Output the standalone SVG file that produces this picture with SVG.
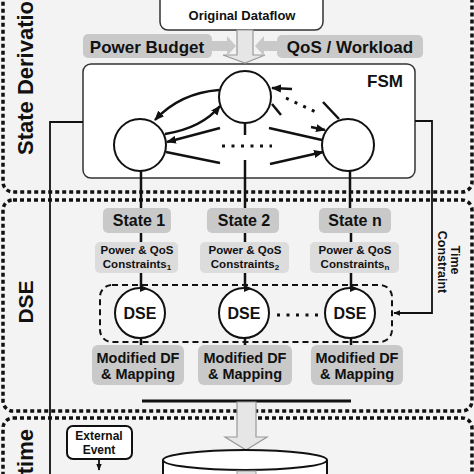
<svg xmlns="http://www.w3.org/2000/svg" width="474" height="474" viewBox="0 0 474 474">
<defs>
<style>
.region{fill:none;stroke:#111;stroke-width:3.5;stroke-dasharray:4 3}
.lbl{font-family:"Liberation Sans",Arial,sans-serif;font-weight:bold;fill:#111}
.gbox{fill:#c9c9c9}
.lbox{fill:#dcdcdc}
.node{fill:#fff;stroke:#111;stroke-width:2}
.ln{fill:none;stroke:#111;stroke-width:2.5}
.thin{fill:none;stroke:#111;stroke-width:1.8}
.dots{fill:none;stroke:#111;stroke-width:3;stroke-dasharray:3 6.5}
.big{fill:#e6e6e6;stroke:#9a9a9a;stroke-width:1.2}
</style>
<marker id="ah" viewBox="0 0 10 8" refX="9" refY="4" markerWidth="4" markerHeight="3.4" orient="auto" markerUnits="strokeWidth">
<path d="M0,0 L10,4 L0,8 z" fill="#111"/>
</marker>
</defs>
<rect width="474" height="474" fill="#f3f3f3"/>

<g id="regions">
<rect class="region" x="3" y="-30" width="469" height="222" rx="10"/>
<rect class="region" x="3" y="200" width="469" height="211" rx="10"/>
<rect class="region" x="3" y="418" width="469" height="100" rx="10"/>
<text class="lbl" font-size="22" transform="translate(33,155) rotate(-90)">State Derivation</text>
<text class="lbl" font-size="21" text-anchor="middle" transform="translate(33,302) rotate(-90)">DSE</text>
<text class="lbl" font-size="22" text-anchor="end" transform="translate(33,429) rotate(-90)">Runtime</text>
</g>

<g id="fsm">
<rect x="83" y="64" width="332" height="114" rx="8" fill="#fff" stroke="#333" stroke-width="1.5"/>
<text class="lbl" font-size="17" x="385" y="87" text-anchor="middle">FSM</text>
</g>

<g id="original-dataflow">
<rect x="160" y="-10" width="163" height="40" rx="8" fill="#fff" stroke="#333" stroke-width="1.5"/>
<text class="lbl" font-size="13" x="242" y="20" text-anchor="middle">Original Dataflow</text>
</g>

<g id="connectors">
<!-- big arrow original -> FSM -->
<path class="big" d="M237,30 L253,30 L253,55 L265,55 L245,63 L223,55 L237,55 z"/>
<!-- input arrows -->
<path d="M212,41 L227,41 L227,36 L236,46 L227,56 L227,51 L212,51 z" fill="#c9c9c9"/>
<path d="M278,41 L264,41 L264,36 L255,46 L264,56 L264,51 L278,51 z" fill="#c9c9c9"/>
<!-- FSM internal -->
<path class="ln" d="M219,90 Q180,93 155,120" marker-end="url(#ah)"/>
<path class="ln" d="M165,134 Q202,128 220,106" marker-end="url(#ah)"/>
<path class="ln" d="M220,128 L167,142" marker-end="url(#ah)"/>
<path class="ln" d="M166,152 L220,163"/>
<path class="ln" d="M292,89 L272,88" marker-end="url(#ah)"/>
<path class="ln" d="M272,104 L281,115"/>
<path class="dots" d="M286,98 L318,113"/>
<path class="ln" d="M323,102 L339,119"/>
<path class="ln" d="M311,127 L325,130" marker-end="url(#ah)"/>
<path class="ln" d="M269,128 L322,140"/>
<path class="ln" d="M270,164 L323,152" marker-end="url(#ah)"/>
<path class="dots" d="M222,146 L272,146"/>
<!-- state lines -->
<path class="ln" d="M141,171 L141,208"/>
<path class="ln" d="M245,123 L245,135"/>
<path class="ln" d="M245,160 L245,208"/>
<path class="ln" d="M350,171 L350,208"/>
<path class="ln" d="M141,233 L141,242 M245,233 L245,242 M351,233 L351,242"/>
<path class="ln" d="M141,273 L141,288 M245,273 L245,288 M351,273 L351,288"/>
<path class="ln" d="M141,337 L141,345 M245,337 L245,345 M351,337 L351,345"/>
<!-- side lines -->
<path class="thin" d="M83,122 L50,122 L50,474"/>
<path class="thin" d="M415,121 L432,121 L432,313 L394,313" marker-end="url(#ah)"/>
<!-- join line and big arrow -->
<path d="M142,401 L351,401" stroke="#111" stroke-width="3"/>
<path class="big" d="M237,402 L256,402 L256,437 L267,437 L246,450 L225,437 L237,437 z"/>
<path class="thin" d="M99,459 L99,470" marker-end="url(#ah)"/>
<!-- DSE dots -->
<path class="dots" d="M277,315 L320,315"/>
</g>

<g id="power-budget">
<rect class="gbox" x="83" y="34" width="129" height="24" rx="5"/>
<text class="lbl" font-size="17" x="147" y="53" text-anchor="middle">Power Budget</text>
</g>
<g id="qos-workload">
<rect class="gbox" x="277" y="35" width="146" height="23" rx="5"/>
<text class="lbl" font-size="17" x="350" y="53" text-anchor="middle">QoS / Workload</text>
</g>

<g id="fsm-state-top"><circle class="node" cx="245" cy="97" r="26"/></g>
<g id="fsm-state-left"><circle class="node" cx="140" cy="145" r="26"/></g>
<g id="fsm-state-right"><circle class="node" cx="348" cy="145" r="26"/></g>

<g id="state1">
<rect class="gbox" x="103" y="208" width="68" height="25" rx="5"/>
<text class="lbl" font-size="16" x="139" y="226" text-anchor="middle">State 1</text>
</g>
<g id="state2">
<rect class="gbox" x="207" y="208" width="72" height="25" rx="5"/>
<text class="lbl" font-size="16" x="244" y="226" text-anchor="middle">State 2</text>
</g>
<g id="staten">
<rect class="gbox" x="319" y="208" width="72" height="25" rx="5"/>
<text class="lbl" font-size="16" x="355" y="226" text-anchor="middle">State n</text>
</g>

<g id="constraints1">
<rect class="lbox" x="95" y="242" width="83" height="31" rx="5"/>
<text class="lbl" font-size="11.5" x="137" y="254" text-anchor="middle">Power &amp; QoS</text>
<text class="lbl" font-size="11.5" x="137" y="268" text-anchor="middle">Constraints<tspan font-size="8" dy="2">1</tspan></text>
</g>
<g id="constraints2">
<rect class="lbox" x="200" y="242" width="89" height="31" rx="5"/>
<text class="lbl" font-size="11.5" x="245" y="254" text-anchor="middle">Power &amp; QoS</text>
<text class="lbl" font-size="11.5" x="245" y="268" text-anchor="middle">Constraints<tspan font-size="8" dy="2">2</tspan></text>
</g>
<g id="constraintsn">
<rect class="lbox" x="310" y="242" width="89" height="31" rx="5"/>
<text class="lbl" font-size="11.5" x="355" y="254" text-anchor="middle">Power &amp; QoS</text>
<text class="lbl" font-size="11.5" x="355" y="268" text-anchor="middle">Constraints<tspan font-size="8" dy="2">n</tspan></text>
</g>

<g id="dse-group">
<rect x="100" y="285" width="292" height="57" rx="12" fill="none" stroke="#111" stroke-width="2" stroke-dasharray="6 4"/>
</g>
<g id="dse1">
<circle class="node" cx="140" cy="313" r="25"/>
<path d="M140,285 L148,288.5 L140,292 z" fill="#111"/>
<text class="lbl" font-size="16" x="140" y="319" text-anchor="middle">DSE</text>
</g>
<g id="dse2">
<circle class="node" cx="244" cy="313" r="25"/>
<path d="M244,285 L252,288.5 L244,292 z" fill="#111"/>
<text class="lbl" font-size="16" x="244" y="319" text-anchor="middle">DSE</text>
</g>
<g id="dsen">
<circle class="node" cx="350" cy="313" r="25"/>
<path d="M350,285 L358,288.5 L350,292 z" fill="#111"/>
<text class="lbl" font-size="16" x="350" y="319" text-anchor="middle">DSE</text>
</g>

<g id="time-constraint">
<text class="lbl" font-size="12.5" text-anchor="middle" transform="translate(451,260) rotate(90)">Time</text>
<text class="lbl" font-size="12.5" text-anchor="middle" transform="translate(438,262) rotate(90)">Constraint</text>
</g>

<g id="mapping1">
<rect class="gbox" x="92" y="345" width="92" height="40" rx="6"/>
<text class="lbl" font-size="14.5" x="138" y="363" text-anchor="middle">Modified DF</text>
<text class="lbl" font-size="14.5" x="138" y="379" text-anchor="middle">&amp; Mapping</text>
</g>
<g id="mapping2">
<rect class="gbox" x="198" y="345" width="94" height="40" rx="6"/>
<text class="lbl" font-size="14.5" x="245" y="363" text-anchor="middle">Modified DF</text>
<text class="lbl" font-size="14.5" x="245" y="379" text-anchor="middle">&amp; Mapping</text>
</g>
<g id="mappingn">
<rect class="gbox" x="311" y="345" width="92" height="40" rx="6"/>
<text class="lbl" font-size="14.5" x="357" y="363" text-anchor="middle">Modified DF</text>
<text class="lbl" font-size="14.5" x="357" y="379" text-anchor="middle">&amp; Mapping</text>
</g>

<g id="external-event">
<rect x="67" y="426" width="65" height="33" rx="6" fill="#fff" stroke="#111" stroke-width="2"/>
<text class="lbl" font-size="12" x="99" y="440" text-anchor="middle">External</text>
<text class="lbl" font-size="12" x="99" y="454" text-anchor="middle">Event</text>
</g>

<g id="storage">
<path d="M163,460 L163,480 L327,480 L327,460" fill="#fff" stroke="#111" stroke-width="2"/>
<ellipse cx="245" cy="460" rx="82" ry="10" fill="#fff" stroke="#111" stroke-width="2"/>
<rect x="237" y="471" width="19" height="5" fill="#e0e0e0" stroke="#9a9a9a" stroke-width="1"/>
</g>
</svg>
